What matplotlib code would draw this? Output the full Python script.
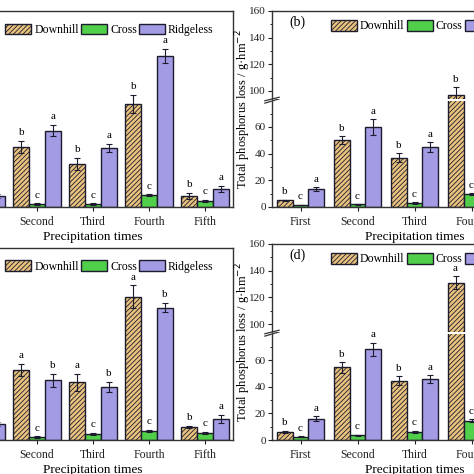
import matplotlib
matplotlib.use("Agg")
import matplotlib.pyplot as plt
import numpy as np

plt.rcParams['font.family'] = ['Liberation Serif', 'DejaVu Serif']

times = ["First", "Second", "Third", "Fourth", "Fifth"]
series = ["Downhill", "Cross", "Ridgeless"]

# panel a (arbitrary y units 0-100; y axis outside view)
a_down = [2.0, 30.6, 22.0, 52.5, 5.6]
a_cross = [0.5, 1.5, 1.5, 6.0, 3.0]
a_ridge = [5.6, 39.0, 30.0, 77.0, 9.0]
a_err_down = [0.5, 3.0, 3.0, 4.5, 1.5]
a_err_cross = [0.2, 0.3, 0.3, 0.4, 0.4]
a_err_ridge = [0.8, 3.0, 2.0, 3.5, 1.5]
a_let = [["b", "b", "b", "b", "b"], ["c", "c", "c", "c", "c"], ["a", "a", "a", "a", "a"]]

# panel c
c_down = [3.0, 36.5, 30.0, 74.5, 6.8]
c_cross = [0.8, 1.6, 3.0, 4.7, 3.6]
c_ridge = [8.3, 31.0, 27.6, 69.0, 11.0]
c_err_down = [0.6, 3.0, 4.5, 6.0, 0.6]
c_err_cross = [0.2, 0.3, 0.5, 0.6, 0.6]
c_err_ridge = [1.0, 3.5, 2.5, 2.5, 2.0]
c_let = [["b", "a", "a", "a", "b"], ["c", "c", "c", "c", "c"], ["a", "b", "b", "b", "a"]]

# panel b (total phosphorus loss)
b_down = [5.0, 50.0, 37.0, 97.0, 10.0]
b_cross = [1.5, 2.0, 3.0, 9.5, 2.0]
b_ridge = [13.5, 60.0, 45.0, 130.0, 15.0]
b_err_down = [0.6, 3.0, 3.5, 6.0, 1.0]
b_err_cross = [0.2, 0.3, 0.4, 0.8, 0.3]
b_err_ridge = [1.5, 6.0, 3.5, 6.0, 2.0]
b_let = [["b", "b", "b", "b", "b"], ["c", "c", "c", "c", "c"], ["a", "a", "a", "a", "a"]]

# panel d
d_down = [6.0, 54.5, 44.5, 131.0, 12.0]
d_cross = [2.5, 3.5, 6.0, 14.5, 3.0]
d_ridge = [16.0, 68.0, 45.5, 120.0, 18.0]
d_err_down = [1.0, 4.0, 3.5, 5.0, 1.0]
d_err_cross = [0.4, 0.4, 1.0, 1.0, 0.4]
d_err_ridge = [2.0, 5.0, 3.0, 5.0, 2.0]
d_let = [["b", "b", "b", "a", "b"], ["c", "c", "c", "c", "c"], ["a", "a", "a", "b", "a"]]

colors = ["#e9c27e", "#52cf4a", "#a39be3"]
hatches = ["///////", None, None]
edge = "#1c1c2e"
W = 474.0
fig = plt.figure(figsize=(4.74, 4.74), dpi=100)

x = np.arange(len(times))
bw = 0.28
offs = [-0.28, 0.0, 0.28]

plt.rcParams['hatch.color'] = "#5a3a10"
plt.rcParams['hatch.linewidth'] = 0.6


def pos(l, t, r, b):
    return [l / W, 1 - b / W, (r - l) / W, (b - t) / W]


def draw_bars(ax, vals, errs):
    for i in range(3):
        ax.bar(x + offs[i], vals[i], bw, color=colors[i], edgecolor=edge, lw=1.0,
               hatch=hatches[i], label=series[i], zorder=2)
        ax.errorbar(x + offs[i], vals[i], yerr=errs[i], fmt="none", ecolor=edge,
                    elinewidth=0.8, capsize=2.5, capthick=0.8, zorder=3)


def style(ax):
    for s in ax.spines.values():
        s.set_color("#333333")
        s.set_linewidth(1.0)
    ax.tick_params(labelsize=8.5, length=3, direction="out", colors="#222222")
    ax.tick_params(axis="y", labelsize=8, pad=1.5)
    ax.set_xlim(-0.5, 4.5)


def legend(ax, anchor):
    h, l = ax.get_legend_handles_labels()
    ax.legend(h, l, ncol=3, frameon=False, fontsize=8.5, loc="upper left",
              bbox_to_anchor=anchor, handlelength=2.2, handleheight=1.0,
              columnspacing=0.2, handletextpad=0.25, borderaxespad=0)


def simple_panel(p, vals, errs, lets):
    ax = fig.add_axes(p)
    draw_bars(ax, vals, errs)
    style(ax)
    ax.set_ylim(0, 100)
    ax.set_yticks([])
    for i in range(3):
        for j in range(5):
            ax.text(x[j] + offs[i], vals[i][j] + errs[i][j] + 2, lets[i][j],
                    ha="center", va="bottom", fontsize=8)
    ax.set_xticks(x, times)
    ax.set_xlabel("Precipitation times", fontsize=9.5, labelpad=2)
    legend(ax, (0.17, 0.96))
    return ax


def broken_panel(top, brk, bottom, vals, errs, lets, tag):
    l, r = 272, 557
    lo = fig.add_axes(pos(l, brk + 1, r, bottom))
    hi = fig.add_axes(pos(l, top, r, brk - 1))
    for ax in (lo, hi):
        draw_bars(ax, vals, errs)
        style(ax)
    lo.set_ylim(0, 79.5)
    hi.set_ylim(94, 160)
    lo.set_yticks([0, 20, 40, 60])
    hi.set_yticks([100, 120, 140, 160])
    lo.set_yticks(np.arange(10, 80, 20), minor=True)
    hi.set_yticks(np.arange(110, 160, 20), minor=True)
    lo.tick_params(which="minor", length=1.5)
    hi.tick_params(which="minor", length=1.5)
    lo.spines["top"].set_visible(False)
    hi.spines["bottom"].set_visible(False)
    hi.set_xticks([])
    lo.set_xticks(x, times)
    lo.set_xlabel("Precipitation times", fontsize=9.5, labelpad=2)
    for i in range(3):
        for j in range(5):
            yv = vals[i][j] + errs[i][j]
            ax = hi if yv > 80 else lo
            ax.text(x[j] + offs[i], yv + 2.5, lets[i][j], ha="center",
                    va="bottom", fontsize=8)
    for ax, yy in ((lo, 1.0), (hi, 0.0)):
        ax.plot([-0.025, 0.025], [yy - 0.02, yy + 0.02], transform=ax.transAxes,
                color="#333333", lw=0.9, clip_on=False)
    hi.text(0.06, 0.87, tag, transform=hi.transAxes, fontsize=10, va="center")
    legend(hi, (0.19, 0.95))
    fig.text(243 / W, 1 - ((top + bottom) / 2) / W,
             "Total phosphorus loss / g·hm$^{-2}$", rotation=90, ha="center",
             va="center", fontsize=9)


simple_panel(pos(-47, 11, 233, 207), [a_down, a_cross, a_ridge],
             [a_err_down, a_err_cross, a_err_ridge], a_let)
simple_panel(pos(-47, 248, 233, 440), [c_down, c_cross, c_ridge],
             [c_err_down, c_err_cross, c_err_ridge], c_let)
broken_panel(11, 100, 207, [b_down, b_cross, b_ridge],
             [b_err_down, b_err_cross, b_err_ridge], b_let, "(b)")
broken_panel(244, 333, 440, [d_down, d_cross, d_ridge],
             [d_err_down, d_err_cross, d_err_ridge], d_let, "(d)")

fig.savefig("out.png", dpi=100)
